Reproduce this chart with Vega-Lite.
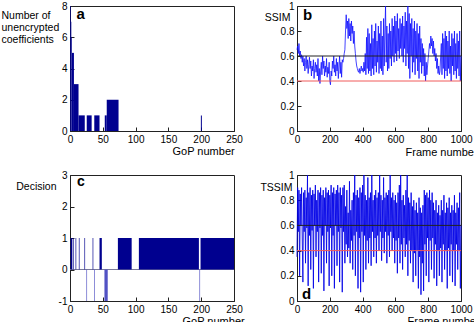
{
"$schema": "https://vega.github.io/schema/vega-lite/v6.json",
"padding": 0,
"bounds": "flush",
"columns": 2,
"spacing": {"row": 44, "column": 63},
"config": {
  "font": "Liberation Sans",
  "view": {"stroke": "#222", "strokeWidth": 1},
  "axis": {"grid": false, "domainColor": "#222", "domainWidth": 1, "tickColor": "#222", "tickSize": -4, "labelFontSize": 10, "labelColor": "#000", "labelPadding": 7, "titleFontSize": 11, "titleFontWeight": "normal", "titleColor": "#000", "labelFlush": false, "labelOverlap": false}
},
"datasets": {
  "ssim": [
{"f":0,"s":0.65},{"f":4,"s":0.68},{"f":8,"s":0.62},{"f":12,"s":0.70},{"f":16,"s":0.60},{"f":20,"s":0.64},{"f":24,"s":0.58},{"f":28,"s":0.61},{"f":32,"s":0.55},{"f":36,"s":0.60},
{"f":40,"s":0.52},{"f":44,"s":0.58},{"f":48,"s":0.48},{"f":52,"s":0.55},{"f":56,"s":0.60},{"f":60,"s":0.50},{"f":64,"s":0.57},{"f":68,"s":0.46},{"f":72,"s":0.53},{"f":76,"s":0.59},
{"f":80,"s":0.50},{"f":84,"s":0.56},{"f":88,"s":0.44},{"f":92,"s":0.52},{"f":96,"s":0.48},{"f":100,"s":0.57},{"f":104,"s":0.42},{"f":108,"s":0.50},{"f":112,"s":0.55},{"f":116,"s":0.47},
{"f":120,"s":0.53},{"f":124,"s":0.44},{"f":128,"s":0.58},{"f":132,"s":0.40},{"f":136,"s":0.50},{"f":140,"s":0.38},{"f":144,"s":0.48},{"f":148,"s":0.55},{"f":152,"s":0.45},{"f":156,"s":0.60},
{"f":160,"s":0.50},{"f":164,"s":0.56},{"f":168,"s":0.44},{"f":172,"s":0.52},{"f":176,"s":0.47},{"f":180,"s":0.58},{"f":184,"s":0.43},{"f":188,"s":0.51},{"f":192,"s":0.46},{"f":196,"s":0.55},
{"f":200,"s":0.40},{"f":204,"s":0.37},{"f":208,"s":0.48},{"f":212,"s":0.44},{"f":216,"s":0.56},{"f":220,"s":0.50},{"f":224,"s":0.60},{"f":228,"s":0.47},{"f":232,"s":0.53},{"f":236,"s":0.44},
{"f":240,"s":0.58},{"f":244,"s":0.48},{"f":248,"s":0.55},{"f":252,"s":0.42},{"f":256,"s":0.52},{"f":260,"s":0.60},{"f":264,"s":0.46},{"f":268,"s":0.55},{"f":272,"s":0.43},{"f":276,"s":0.57},
{"f":280,"s":0.55},{"f":284,"s":0.58},{"f":288,"s":0.62},{"f":292,"s":0.65},{"f":296,"s":0.80},{"f":300,"s":0.93},{"f":304,"s":0.82},{"f":308,"s":0.88},{"f":312,"s":0.74},{"f":316,"s":0.90},
{"f":320,"s":0.76},{"f":324,"s":0.86},{"f":328,"s":0.72},{"f":332,"s":0.88},{"f":336,"s":0.78},{"f":340,"s":0.84},{"f":344,"s":0.70},{"f":348,"s":0.80},{"f":352,"s":0.68},{"f":356,"s":0.62},
{"f":360,"s":0.56},{"f":364,"s":0.52},{"f":368,"s":0.50},{"f":372,"s":0.48},{"f":376,"s":0.47},{"f":380,"s":0.50},{"f":384,"s":0.46},{"f":388,"s":0.49},{"f":392,"s":0.52},{"f":396,"s":0.48},
{"f":400,"s":0.50},{"f":404,"s":0.47},{"f":408,"s":0.55},{"f":412,"s":0.48},{"f":416,"s":0.62},{"f":420,"s":0.45},{"f":424,"s":0.75},{"f":428,"s":0.50},{"f":432,"s":0.82},{"f":436,"s":0.46},
{"f":440,"s":0.78},{"f":444,"s":0.48},{"f":448,"s":0.70},{"f":452,"s":0.44},{"f":456,"s":0.85},{"f":460,"s":0.50},{"f":464,"s":0.74},{"f":468,"s":0.45},{"f":472,"s":0.80},{"f":476,"s":0.52},
{"f":480,"s":0.86},{"f":484,"s":0.47},{"f":488,"s":0.72},{"f":492,"s":0.55},{"f":496,"s":0.84},{"f":500,"s":0.46},{"f":504,"s":0.78},{"f":508,"s":0.50},{"f":512,"s":0.88},{"f":516,"s":0.48},
{"f":520,"s":0.76},{"f":524,"s":0.45},{"f":528,"s":0.90},{"f":532,"s":0.52},{"f":536,"s":0.80},{"f":540,"s":1.00},{"f":544,"s":0.55},{"f":548,"s":0.84},{"f":552,"s":0.48},{"f":556,"s":0.78},
{"f":560,"s":0.50},{"f":564,"s":0.86},{"f":568,"s":0.58},{"f":572,"s":0.80},{"f":576,"s":0.52},{"f":580,"s":0.90},{"f":584,"s":0.60},{"f":588,"s":0.84},{"f":592,"s":0.55},{"f":596,"s":0.92},
{"f":600,"s":0.62},{"f":604,"s":0.88},{"f":608,"s":0.56},{"f":612,"s":0.94},{"f":616,"s":0.64},{"f":620,"s":0.82},{"f":624,"s":0.58},{"f":628,"s":0.90},{"f":632,"s":0.66},{"f":636,"s":0.86},
{"f":640,"s":0.60},{"f":644,"s":0.92},{"f":648,"s":0.55},{"f":652,"s":0.84},{"f":656,"s":0.66},{"f":660,"s":0.95},{"f":664,"s":0.52},{"f":668,"s":0.88},{"f":672,"s":0.62},{"f":676,"s":1.00},
{"f":680,"s":0.50},{"f":684,"s":0.94},{"f":688,"s":0.42},{"f":692,"s":0.86},{"f":696,"s":0.60},{"f":700,"s":0.90},{"f":704,"s":0.47},{"f":708,"s":0.82},{"f":712,"s":0.55},{"f":716,"s":0.88},
{"f":720,"s":0.45},{"f":724,"s":0.80},{"f":728,"s":0.58},{"f":732,"s":0.86},{"f":736,"s":0.48},{"f":740,"s":0.78},{"f":744,"s":0.42},{"f":748,"s":0.84},{"f":752,"s":0.55},{"f":756,"s":0.74},
{"f":760,"s":0.46},{"f":764,"s":0.70},{"f":768,"s":0.52},{"f":772,"s":0.66},{"f":776,"s":0.44},{"f":780,"s":0.62},{"f":784,"s":0.40},{"f":788,"s":0.55},{"f":792,"s":0.45},{"f":796,"s":0.52},
{"f":800,"s":0.58},{"f":804,"s":0.64},{"f":808,"s":0.70},{"f":812,"s":0.66},{"f":816,"s":0.76},{"f":820,"s":0.68},{"f":824,"s":0.74},{"f":828,"s":0.62},{"f":832,"s":0.72},{"f":836,"s":0.60},
{"f":840,"s":0.66},{"f":844,"s":0.56},{"f":848,"s":0.62},{"f":852,"s":0.50},{"f":856,"s":0.58},{"f":860,"s":0.46},{"f":864,"s":0.52},{"f":868,"s":0.45},{"f":872,"s":0.48},{"f":876,"s":0.60},
{"f":880,"s":0.70},{"f":884,"s":0.45},{"f":888,"s":0.78},{"f":892,"s":0.50},{"f":896,"s":0.74},{"f":900,"s":0.42},{"f":904,"s":0.80},{"f":908,"s":0.48},{"f":912,"s":0.76},{"f":916,"s":0.44},
{"f":920,"s":0.72},{"f":924,"s":0.50},{"f":928,"s":0.80},{"f":932,"s":0.46},{"f":936,"s":0.68},{"f":940,"s":0.40},{"f":944,"s":0.78},{"f":948,"s":0.52},{"f":952,"s":0.74},{"f":956,"s":0.45},
{"f":960,"s":0.80},{"f":964,"s":0.48},{"f":968,"s":0.70},{"f":972,"s":0.42},{"f":976,"s":0.78},{"f":980,"s":0.50},{"f":984,"s":0.72},{"f":988,"s":0.44},{"f":992,"s":0.80},{"f":996,"s":0.40},
{"f":1000,"s":0.60}
  ],
  "tssim": [
{"f":0,"t":0.35},{"f":4,"t":0.90},{"f":8,"t":0.55},{"f":12,"t":0.88},{"f":16,"t":0.20},{"f":20,"t":0.85},{"f":24,"t":0.60},{"f":28,"t":0.90},{"f":32,"t":0.50},{"f":36,"t":0.15},
{"f":40,"t":0.86},{"f":44,"t":0.55},{"f":48,"t":0.88},{"f":52,"t":0.30},{"f":56,"t":0.82},{"f":60,"t":0.58},{"f":64,"t":1.00},{"f":68,"t":0.12},{"f":72,"t":0.86},{"f":76,"t":0.52},
{"f":80,"t":0.90},{"f":84,"t":0.25},{"f":88,"t":0.84},{"f":92,"t":0.56},{"f":96,"t":0.88},{"f":100,"t":0.10},{"f":104,"t":0.85},{"f":108,"t":0.60},{"f":112,"t":0.92},{"f":116,"t":0.35},
{"f":120,"t":0.80},{"f":124,"t":0.55},{"f":128,"t":0.88},{"f":132,"t":0.15},{"f":136,"t":0.86},{"f":140,"t":0.58},{"f":144,"t":0.90},{"f":148,"t":0.22},{"f":152,"t":0.84},{"f":156,"t":0.52},
{"f":160,"t":0.88},{"f":164,"t":0.08},{"f":168,"t":0.82},{"f":172,"t":0.60},{"f":176,"t":0.90},{"f":180,"t":0.30},{"f":184,"t":0.86},{"f":188,"t":0.55},{"f":192,"t":0.88},{"f":196,"t":0.12},
{"f":200,"t":0.84},{"f":204,"t":0.58},{"f":208,"t":0.92},{"f":212,"t":0.20},{"f":216,"t":0.86},{"f":220,"t":0.52},{"f":224,"t":0.90},{"f":228,"t":0.10},{"f":232,"t":0.85},{"f":236,"t":0.60},
{"f":240,"t":0.88},{"f":244,"t":0.28},{"f":248,"t":0.92},{"f":252,"t":0.55},{"f":256,"t":0.86},{"f":260,"t":0.15},{"f":264,"t":0.90},{"f":268,"t":0.58},{"f":272,"t":0.84},{"f":276,"t":0.07},
{"f":280,"t":0.90},{"f":284,"t":0.55},{"f":288,"t":0.92},{"f":292,"t":0.30},{"f":296,"t":0.75},{"f":300,"t":0.45},{"f":304,"t":0.88},{"f":308,"t":0.35},{"f":312,"t":0.70},{"f":316,"t":0.42},
{"f":320,"t":0.95},{"f":324,"t":0.30},{"f":328,"t":0.72},{"f":332,"t":0.48},{"f":336,"t":0.80},{"f":340,"t":0.25},{"f":344,"t":0.86},{"f":348,"t":0.52},{"f":352,"t":1.00},{"f":356,"t":0.20},
{"f":360,"t":0.84},{"f":364,"t":0.55},{"f":368,"t":0.88},{"f":372,"t":0.10},{"f":376,"t":0.82},{"f":380,"t":0.50},{"f":384,"t":0.90},{"f":388,"t":0.07},{"f":392,"t":0.86},{"f":396,"t":0.55},
{"f":400,"t":0.92},{"f":404,"t":0.15},{"f":408,"t":1.00},{"f":412,"t":0.52},{"f":416,"t":0.84},{"f":420,"t":0.25},{"f":424,"t":0.80},{"f":428,"t":0.48},{"f":432,"t":0.98},{"f":436,"t":0.30},
{"f":440,"t":0.82},{"f":444,"t":0.50},{"f":448,"t":0.86},{"f":452,"t":0.28},{"f":456,"t":1.00},{"f":460,"t":0.55},{"f":464,"t":0.80},{"f":468,"t":0.35},{"f":472,"t":0.84},{"f":476,"t":0.50},
{"f":480,"t":0.88},{"f":484,"t":0.30},{"f":488,"t":0.82},{"f":492,"t":0.52},{"f":496,"t":0.86},{"f":500,"t":0.40},{"f":504,"t":1.00},{"f":508,"t":0.55},{"f":512,"t":0.84},{"f":516,"t":0.32},
{"f":520,"t":0.80},{"f":524,"t":0.50},{"f":528,"t":0.98},{"f":532,"t":0.38},{"f":536,"t":0.82},{"f":540,"t":0.55},{"f":544,"t":0.86},{"f":548,"t":0.30},{"f":552,"t":0.84},{"f":556,"t":0.52},
{"f":560,"t":0.88},{"f":564,"t":0.35},{"f":568,"t":1.00},{"f":572,"t":0.55},{"f":576,"t":0.82},{"f":580,"t":0.40},{"f":584,"t":0.86},{"f":588,"t":0.50},{"f":592,"t":0.80},{"f":596,"t":0.30},
{"f":600,"t":0.84},{"f":604,"t":0.48},{"f":608,"t":0.78},{"f":612,"t":0.22},{"f":616,"t":0.86},{"f":620,"t":0.50},{"f":624,"t":0.92},{"f":628,"t":0.30},{"f":632,"t":1.00},{"f":636,"t":0.45},
{"f":640,"t":0.80},{"f":644,"t":0.25},{"f":648,"t":0.84},{"f":652,"t":0.50},{"f":656,"t":0.76},{"f":660,"t":0.35},{"f":664,"t":0.88},{"f":668,"t":0.45},{"f":672,"t":1.00},{"f":676,"t":0.20},
{"f":680,"t":0.82},{"f":684,"t":0.48},{"f":688,"t":0.78},{"f":692,"t":0.30},{"f":696,"t":0.86},{"f":700,"t":0.40},{"f":704,"t":0.75},{"f":708,"t":0.15},{"f":712,"t":0.80},{"f":716,"t":0.38},
{"f":720,"t":0.72},{"f":724,"t":0.20},{"f":728,"t":0.78},{"f":732,"t":0.40},{"f":736,"t":0.70},{"f":740,"t":0.10},{"f":744,"t":0.82},{"f":748,"t":0.35},{"f":752,"t":0.74},{"f":756,"t":0.05},
{"f":760,"t":0.70},{"f":764,"t":0.30},{"f":768,"t":0.76},{"f":772,"t":0.08},{"f":776,"t":0.88},{"f":780,"t":0.45},{"f":784,"t":0.84},{"f":788,"t":0.20},{"f":792,"t":0.86},{"f":796,"t":0.50},
{"f":800,"t":0.82},{"f":804,"t":0.15},{"f":808,"t":0.88},{"f":812,"t":0.48},{"f":816,"t":0.80},{"f":820,"t":0.25},{"f":824,"t":0.86},{"f":828,"t":0.50},{"f":832,"t":0.78},{"f":836,"t":0.18},
{"f":840,"t":0.72},{"f":844,"t":0.45},{"f":848,"t":0.80},{"f":852,"t":0.12},{"f":856,"t":0.70},{"f":860,"t":0.40},{"f":864,"t":0.76},{"f":868,"t":0.20},{"f":872,"t":0.68},{"f":876,"t":0.42},
{"f":880,"t":0.80},{"f":884,"t":0.15},{"f":888,"t":0.72},{"f":892,"t":0.45},{"f":896,"t":0.84},{"f":900,"t":0.25},{"f":904,"t":0.70},{"f":908,"t":0.40},{"f":912,"t":0.78},{"f":916,"t":0.10},
{"f":920,"t":0.74},{"f":924,"t":0.42},{"f":928,"t":0.82},{"f":932,"t":0.20},{"f":936,"t":0.70},{"f":940,"t":0.45},{"f":944,"t":0.76},{"f":948,"t":0.15},{"f":952,"t":0.72},{"f":956,"t":0.40},
{"f":960,"t":0.84},{"f":964,"t":0.12},{"f":968,"t":0.70},{"f":972,"t":0.45},{"f":976,"t":0.78},{"f":980,"t":0.25},{"f":984,"t":0.74},{"f":988,"t":0.40},{"f":992,"t":0.86},{"f":996,"t":0.10},
{"f":1000,"t":0.60}
  ]
},
"concat": [
  {
    "width": 164, "height": 125,
    "layer": [
      {
        "data": {"values": [
          {"g0":0,"g1":1,"n":8},{"g0":1,"g1":2,"n":7},{"g0":2,"g1":3,"n":6},{"g0":3,"g1":6,"n":5},
          {"g0":6,"g1":13,"n":3},{"g0":13,"g1":22.5,"n":1},{"g0":25.5,"g1":33,"n":1},{"g0":37,"g1":45,"n":1},
          {"g0":53,"g1":56,"n":1},{"g0":56,"g1":74,"n":2},{"g0":199.5,"g1":201,"n":1}
        ]},
        "mark": {"type": "rect", "color": "#00008f"},
        "encoding": {
          "x": {"field": "g0", "type": "quantitative", "scale": {"domain": [0, 250], "nice": false},
                "axis": {"values": [0,50,100,150,200,250], "labelOverlap": false, "title": "GoP number", "titleAlign": "left", "titleBaseline": "middle", "titleX": 102, "titleY": 20}},
          "x2": {"field": "g1"},
          "y": {"field": "n", "type": "quantitative", "scale": {"domain": [0, 8], "nice": false},
                "axis": {"values": [0,2,4,6,8], "labelOverlap": false, "title": ["Number of", "unencrypted", "coefficients"], "titleFontSize": 10.5, "titleLineHeight": 12, "titleAngle": 0, "titleAlign": "left", "titleBaseline": "top", "titleX": -69, "titleY": 4}},
          "y2": {"datum": 0}
        }
      },
      {
        "data": {"values": [{"px": 10, "py": 7.17, "lab": "a"}]},
        "mark": {"type": "text", "align": "left", "baseline": "alphabetic", "fontSize": 15, "fontWeight": "bold", "color": "#000"},
        "encoding": {
          "x": {"field": "px", "type": "quantitative", "scale": {"domain": [0, 250], "nice": false},
                "axis": {"values": [0,50,100,150,200,250], "labelOverlap": false, "title": "GoP number", "titleAlign": "left", "titleBaseline": "middle", "titleX": 102, "titleY": 20}},
          "y": {"field": "py", "type": "quantitative", "scale": {"domain": [0, 8], "nice": false},
                "axis": {"values": [0,2,4,6,8], "labelOverlap": false, "title": ["Number of", "unencrypted", "coefficients"], "titleFontSize": 10.5, "titleLineHeight": 12, "titleAngle": 0, "titleAlign": "left", "titleBaseline": "top", "titleX": -69, "titleY": 4}},
          "text": {"field": "lab"}
        }
      }
    ]
  },
  {
    "width": 164, "height": 125,
    "layer": [
      {
        "data": {"name": "ssim"},
        "mark": {"type": "line", "color": "#0a0aff", "strokeWidth": 0.9, "opacity": 0.85},
        "encoding": {
          "x": {"field": "f", "type": "quantitative", "scale": {"domain": [0, 1000], "nice": false},
                "axis": {"values": [0,200,400,600,800,1000], "format": "d", "labelOverlap": false, "title": "Frame number", "titleAlign": "left", "titleBaseline": "middle", "titleX": 108, "titleY": 21}},
          "y": {"field": "s", "type": "quantitative", "scale": {"domain": [0, 1], "nice": false},
                "axis": {"values": [0,0.2,0.4,0.6,0.8,1], "labelOverlap": false, "format": "~g", "title": "SSIM", "titleFontSize": 10.5, "titleAngle": 0, "titleAlign": "right", "titleBaseline": "middle", "titleX": -7, "titleY": 11}}
        }
      },
      {"data": {"values": [{"thr": 0.6}]}, "mark": {"type": "rule", "color": "#222", "strokeWidth": 1},
       "encoding": {"y": {"field": "thr", "type": "quantitative", "scale": {"domain": [0, 1], "nice": false},
                "axis": {"values": [0,0.2,0.4,0.6,0.8,1], "labelOverlap": false, "format": "~g", "title": "SSIM", "titleFontSize": 10.5, "titleAngle": 0, "titleAlign": "right", "titleBaseline": "middle", "titleX": -7, "titleY": 11}}}},
      {"data": {"values": [{"thr": 0.4}]}, "mark": {"type": "rule", "color": "#f05a5a", "strokeWidth": 1},
       "encoding": {"y": {"field": "thr", "type": "quantitative", "scale": {"domain": [0, 1], "nice": false},
                "axis": {"values": [0,0.2,0.4,0.6,0.8,1], "labelOverlap": false, "format": "~g", "title": "SSIM", "titleFontSize": 10.5, "titleAngle": 0, "titleAlign": "right", "titleBaseline": "middle", "titleX": -7, "titleY": 11}}}},
      {
        "data": {"values": [{"px": 37, "py": 0.888, "lab": "b"}]},
        "mark": {"type": "text", "align": "left", "baseline": "alphabetic", "fontSize": 15, "fontWeight": "bold", "color": "#000"},
        "encoding": {
          "x": {"field": "px", "type": "quantitative", "scale": {"domain": [0, 1000], "nice": false},
                "axis": {"values": [0,200,400,600,800,1000], "format": "d", "labelOverlap": false, "title": "Frame number", "titleAlign": "left", "titleBaseline": "middle", "titleX": 108, "titleY": 21}},
          "y": {"field": "py", "type": "quantitative", "scale": {"domain": [0, 1], "nice": false},
                "axis": {"values": [0,0.2,0.4,0.6,0.8,1], "labelOverlap": false, "format": "~g", "title": "SSIM", "titleFontSize": 10.5, "titleAngle": 0, "titleAlign": "right", "titleBaseline": "middle", "titleX": -7, "titleY": 11}},
          "text": {"field": "lab"}
        }
      }
    ]
  },
  {
    "width": 164, "height": 126,
    "layer": [
      {"data": {"values": [{"base": 0}]}, "mark": {"type": "rule", "color": "#7a7a9a", "strokeWidth": 1},
       "encoding": {"y": {"field": "base", "type": "quantitative", "scale": {"domain": [-1, 3], "nice": false},
                "axis": {"values": [-1,0,1,2,3], "labelOverlap": false, "labelExpr": "'' + datum.value", "title": "Decision", "titleFontSize": 10.5, "titleAngle": 0, "titleAlign": "right", "titleBaseline": "middle", "titleX": -14, "titleY": 11.5}}}},
      {
        "data": {"values": [
          {"g0":1,"g1":3.5,"d":1},{"g0":4.5,"g1":5.5,"d":1},{"g0":8.5,"g1":9.5,"d":1},{"g0":13.5,"g1":14.5,"d":1},
          {"g0":22,"g1":23,"d":1},{"g0":34.5,"g1":35.5,"d":1},{"g0":45,"g1":48.5,"d":1},
          {"g0":73,"g1":94,"d":1},{"g0":105,"g1":196.5,"d":1},{"g0":199,"g1":250,"d":1},
          {"g0":25,"g1":26,"d":-1},{"g0":37,"g1":38,"d":-1},{"g0":52.5,"g1":57.5,"d":-1},{"g0":197.3,"g1":198.3,"d":-1}
        ]},
        "mark": {"type": "rect"},
        "encoding": {
          "x": {"field": "g0", "type": "quantitative", "scale": {"domain": [0, 250], "nice": false},
                "axis": {"values": [0,50,100,150,200,250], "labelOverlap": false, "title": "GoP number", "titleAlign": "left", "titleBaseline": "middle", "titleX": 112, "titleY": 20}},
          "x2": {"field": "g1"},
          "y": {"field": "d", "type": "quantitative", "scale": {"domain": [-1, 3], "nice": false},
                "axis": {"values": [-1,0,1,2,3], "labelOverlap": false, "labelExpr": "'' + datum.value", "title": "Decision", "titleFontSize": 10.5, "titleAngle": 0, "titleAlign": "right", "titleBaseline": "middle", "titleX": -14, "titleY": 11.5}},
          "y2": {"datum": 0},
          "color": {"condition": {"test": "datum.d < 0", "value": "#5252c4"}, "value": "#00008f"}
        }
      },
      {
        "data": {"values": [{"px": 10.5, "py": 2.65, "lab": "c"}]},
        "mark": {"type": "text", "align": "left", "baseline": "alphabetic", "fontSize": 14, "fontWeight": "bold", "color": "#000"},
        "encoding": {
          "x": {"field": "px", "type": "quantitative", "scale": {"domain": [0, 250], "nice": false},
                "axis": {"values": [0,50,100,150,200,250], "labelOverlap": false, "title": "GoP number", "titleAlign": "left", "titleBaseline": "middle", "titleX": 112, "titleY": 20}},
          "y": {"field": "py", "type": "quantitative", "scale": {"domain": [-1, 3], "nice": false},
                "axis": {"values": [-1,0,1,2,3], "labelOverlap": false, "labelExpr": "'' + datum.value", "title": "Decision", "titleFontSize": 10.5, "titleAngle": 0, "titleAlign": "right", "titleBaseline": "middle", "titleX": -14, "titleY": 11.5}},
          "text": {"field": "lab"}
        }
      }
    ]
  },
  {
    "width": 164, "height": 126,
    "layer": [
      {
        "data": {"name": "tssim"},
        "mark": {"type": "line", "color": "#0000e6", "strokeWidth": 1, "opacity": 0.85},
        "encoding": {
          "x": {"field": "f", "type": "quantitative", "scale": {"domain": [0, 1000], "nice": false},
                "axis": {"values": [0,200,400,600,800,1000], "format": "d", "labelOverlap": false, "title": "Frame number", "titleAlign": "left", "titleBaseline": "middle", "titleX": 110, "titleY": 20}},
          "y": {"field": "t", "type": "quantitative", "scale": {"domain": [0, 1], "nice": false},
                "axis": {"values": [0,0.2,0.4,0.6,0.8,1], "labelOverlap": false, "format": "~g", "title": "TSSIM", "titleFontSize": 10.5, "titleAngle": 0, "titleAlign": "right", "titleBaseline": "middle", "titleX": -5, "titleY": 12}}
        }
      },
      {"data": {"values": [{"thr": 0.6}]}, "mark": {"type": "rule", "color": "#222", "strokeWidth": 1},
       "encoding": {"y": {"field": "thr", "type": "quantitative", "scale": {"domain": [0, 1], "nice": false},
                "axis": {"values": [0,0.2,0.4,0.6,0.8,1], "labelOverlap": false, "format": "~g", "title": "TSSIM", "titleFontSize": 10.5, "titleAngle": 0, "titleAlign": "right", "titleBaseline": "middle", "titleX": -5, "titleY": 12}}}},
      {"data": {"values": [{"thr": 0.4}]}, "mark": {"type": "rule", "color": "#f05a5a", "strokeWidth": 1},
       "encoding": {"y": {"field": "thr", "type": "quantitative", "scale": {"domain": [0, 1], "nice": false},
                "axis": {"values": [0,0.2,0.4,0.6,0.8,1], "labelOverlap": false, "format": "~g", "title": "TSSIM", "titleFontSize": 10.5, "titleAngle": 0, "titleAlign": "right", "titleBaseline": "middle", "titleX": -5, "titleY": 12}}}},
      {
        "data": {"values": [{"px": 30, "py": 0.016, "lab": "d"}]},
        "mark": {"type": "text", "align": "left", "baseline": "alphabetic", "fontSize": 15, "fontWeight": "bold", "color": "#000"},
        "encoding": {
          "x": {"field": "px", "type": "quantitative", "scale": {"domain": [0, 1000], "nice": false},
                "axis": {"values": [0,200,400,600,800,1000], "format": "d", "labelOverlap": false, "title": "Frame number", "titleAlign": "left", "titleBaseline": "middle", "titleX": 110, "titleY": 20}},
          "y": {"field": "py", "type": "quantitative", "scale": {"domain": [0, 1], "nice": false},
                "axis": {"values": [0,0.2,0.4,0.6,0.8,1], "labelOverlap": false, "format": "~g", "title": "TSSIM", "titleFontSize": 10.5, "titleAngle": 0, "titleAlign": "right", "titleBaseline": "middle", "titleX": -5, "titleY": 12}},
          "text": {"field": "lab"}
        }
      }
    ]
  }
]
}
